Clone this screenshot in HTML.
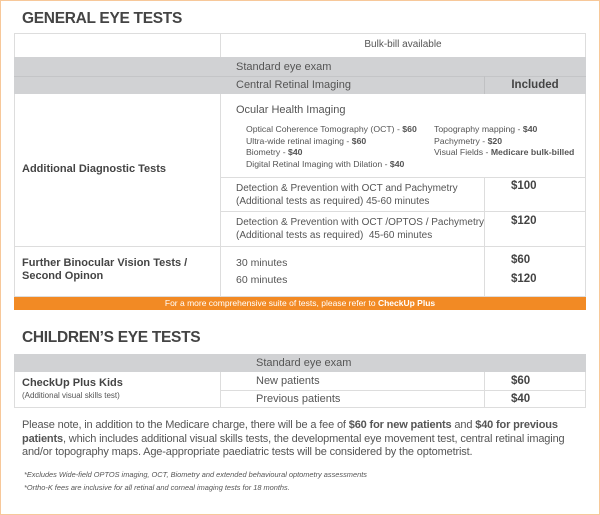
<!DOCTYPE html>
<html><head><style>
body{margin:0;width:600px;height:515px;background:#fff;font-family:"Liberation Sans",sans-serif;color:#555;position:relative;overflow:hidden}
.frame{position:absolute;left:0;top:0;width:598px;height:513px;border:1px solid #f7c89a}
div{position:absolute;white-space:nowrap}
.h{font-weight:bold;font-size:15.5px;color:#444;letter-spacing:-0.3px}
.ln{background:#ddd}
.g{background:#d1d2d4}
.t{font-size:11px}
.s{font-size:8.7px}
.b{font-weight:bold;color:#444}
.p{font-size:11.5px;font-weight:bold;color:#444}
</style></head><body>
<div class="frame"></div>
<div class="h" style="left:22px;top:10px">GENERAL EYE TESTS</div>
<div style="left:14px;top:33px;width:572px;height:264px;border:1px solid #ddd;box-sizing:border-box"></div>
<div class="g" style="left:14px;top:57px;width:572px;height:37px"></div>
<div class="ln" style="left:14px;top:76px;width:572px;height:1px;background:#c4c5c7"></div>
<div class="ln" style="left:220px;top:33px;width:1px;height:24px"></div>
<div class="ln" style="left:220px;top:94px;width:1px;height:203px"></div>
<div class="ln" style="left:484px;top:76px;width:1px;height:18px;background:#c0c1c3"></div>
<div class="ln" style="left:484px;top:177px;width:1px;height:120px"></div>
<div class="ln" style="left:220px;top:177px;width:366px;height:1px"></div>
<div class="ln" style="left:220px;top:211px;width:366px;height:1px"></div>
<div class="ln" style="left:14px;top:246px;width:572px;height:1px"></div>
<div class="t" style="left:220px;width:366px;text-align:center;top:39px;font-size:10px">Bulk-bill available</div>
<div class="t" style="left:236px;top:61px">Standard eye exam</div>
<div class="t" style="left:236px;top:79px">Central Retinal Imaging</div>
<div class="p" style="left:484px;width:102px;text-align:center;top:79px">Included</div>
<div class="t" style="left:236px;top:104px">Ocular Health Imaging</div>
<div class="s" style="left:246px;top:124px;line-height:11.6px">Optical Coherence Tomography (OCT) - <b>$60</b><br>Ultra-wide retinal imaging - <b>$60</b><br>Biometry - <b>$40</b><br>Digital Retinal Imaging with Dilation - <b>$40</b></div>
<div class="s" style="left:434px;top:124px;line-height:11.6px">Topography mapping - <b>$40</b><br>Pachymetry - <b>$20</b><br>Visual Fields - <b>Medicare bulk-billed</b></div>
<div class="b" style="left:22px;top:163px;font-size:11px">Additional Diagnostic Tests</div>
<div class="t" style="left:236px;top:182px;line-height:13px;font-size:10px">Detection &amp; Prevention with OCT and Pachymetry<br>(Additional tests as required) 45-60 minutes</div>
<div class="p" style="left:511px;top:180px">$100</div>
<div class="t" style="left:236px;top:216px;line-height:13px;font-size:10px">Detection &amp; Prevention with OCT /OPTOS / Pachymetry<br>(Additional tests as required)&nbsp; 45-60 minutes</div>
<div class="p" style="left:511px;top:215px">$120</div>
<div class="b" style="left:22px;top:257px;font-size:11px;line-height:13px">Further Binocular Vision Tests /<br>Second Opinon</div>
<div class="t" style="left:236px;top:257px;font-size:10.5px">30 minutes</div>
<div class="t" style="left:236px;top:274px;font-size:10.5px">60 minutes</div>
<div class="p" style="left:511px;top:254px">$60</div>
<div class="p" style="left:511px;top:273px">$120</div>
<div style="left:14px;top:297px;width:572px;height:13px;background:#f28a24;color:#fff;font-size:8.5px;text-align:center;line-height:13px">For a more comprehensive suite of tests, please refer to <b>CheckUp Plus</b></div>
<div class="h" style="left:22px;top:329px">CHILDREN’S EYE TESTS</div>
<div style="left:14px;top:354px;width:572px;height:54px;border:1px solid #ddd;box-sizing:border-box"></div>
<div class="g" style="left:14px;top:354px;width:572px;height:18px"></div>
<div class="ln" style="left:220px;top:372px;width:1px;height:36px"></div>
<div class="ln" style="left:484px;top:372px;width:1px;height:36px"></div>
<div class="ln" style="left:220px;top:390px;width:366px;height:1px"></div>
<div class="t" style="left:256px;top:357px">Standard eye exam</div>
<div class="t" style="left:256px;top:375px">New patients</div>
<div class="t" style="left:256px;top:393px">Previous patients</div>
<div class="p" style="left:511px;top:375px">$60</div>
<div class="p" style="left:511px;top:393px">$40</div>
<div class="b" style="left:22px;top:377px;font-size:11px">CheckUp Plus Kids</div>
<div style="left:22px;top:391px;font-size:8px">(Additional visual skills test)</div>
<div style="left:22px;top:419px;font-size:11px;line-height:13.5px;white-space:normal;width:560px;letter-spacing:-0.15px">Please note, in addition to the Medicare charge, there will be a fee of <b>$60 for new patients</b> and <b>$40 for previous patients</b>, which includes additional visual skills tests, the developmental eye movement test, central retinal imaging and/or topography maps. Age-appropriate paediatric tests will be considered by the optometrist.</div>
<div style="left:24px;top:468px;font-size:7.4px;font-style:italic;line-height:13px">*Excludes Wide-field OPTOS imaging, OCT, Biometry and extended behavioural optometry assessments<br>*Ortho-K fees are inclusive for all retinal and corneal imaging tests for 18 months.</div>
</body></html>
